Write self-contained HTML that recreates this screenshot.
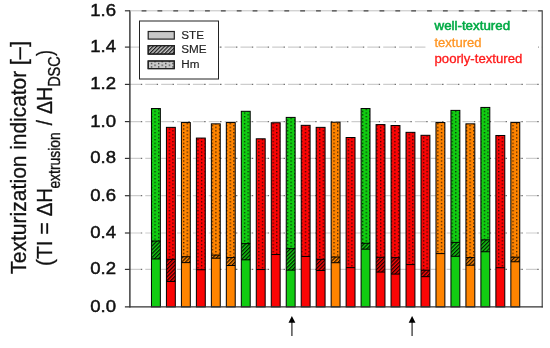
<!DOCTYPE html>
<html><head><meta charset="utf-8"><title>Texturization indicator</title>
<style>
html,body{margin:0;padding:0;background:#fff}
svg text{font-family:"Liberation Sans",sans-serif}
</style></head><body>
<svg width="550" height="348" viewBox="0 0 550 348" style="display:block">
<defs>
<pattern id="dots" width="7.16" height="3.55" patternUnits="userSpaceOnUse" x="154.4" y="110.7">
<rect x="0" y="0" width="1.3" height="1.3" fill="#000" fill-opacity="0.75"/>
<rect x="3.58" y="1.78" width="1.3" height="1.3" fill="#000" fill-opacity="0.75"/>
</pattern>
<pattern id="hatch" width="2.7" height="2.7" patternUnits="userSpaceOnUse" patternTransform="rotate(-45)">
<rect x="0" y="0" width="2.7" height="1.25" fill="#000" fill-opacity="0.85"/>
</pattern>
</defs>
<rect width="550" height="348" fill="#fff"/>
<line x1="129.9" x2="542.2" y1="269.40" y2="269.40" stroke="#cdcdcd" stroke-width="1.2" stroke-dasharray="11 4.86" stroke-dashoffset="-15.40"/>
<line x1="129.9" x2="542.2" y1="269.40" y2="269.40" stroke="#707070" stroke-width="1.2" stroke-dasharray="1.5 14.36" stroke-dashoffset="-10.80"/>
<line x1="129.9" x2="542.2" y1="233.00" y2="233.00" stroke="#cdcdcd" stroke-width="1.2" stroke-dasharray="11 4.86" stroke-dashoffset="-15.40"/>
<line x1="129.9" x2="542.2" y1="233.00" y2="233.00" stroke="#707070" stroke-width="1.2" stroke-dasharray="1.5 14.36" stroke-dashoffset="-10.80"/>
<line x1="129.9" x2="542.2" y1="195.70" y2="195.70" stroke="#cdcdcd" stroke-width="1.2" stroke-dasharray="11 4.86" stroke-dashoffset="-15.40"/>
<line x1="129.9" x2="542.2" y1="195.70" y2="195.70" stroke="#707070" stroke-width="1.2" stroke-dasharray="1.5 14.36" stroke-dashoffset="-10.80"/>
<line x1="129.9" x2="542.2" y1="158.40" y2="158.40" stroke="#cdcdcd" stroke-width="1.2" stroke-dasharray="11 4.86" stroke-dashoffset="-15.40"/>
<line x1="129.9" x2="542.2" y1="158.40" y2="158.40" stroke="#707070" stroke-width="1.2" stroke-dasharray="1.5 14.36" stroke-dashoffset="-10.80"/>
<line x1="129.9" x2="542.2" y1="121.60" y2="121.60" stroke="#cdcdcd" stroke-width="1.2" stroke-dasharray="11 4.86" stroke-dashoffset="-15.40"/>
<line x1="129.9" x2="542.2" y1="121.60" y2="121.60" stroke="#707070" stroke-width="1.2" stroke-dasharray="1.5 14.36" stroke-dashoffset="-10.80"/>
<line x1="129.9" x2="542.2" y1="84.40" y2="84.40" stroke="#cdcdcd" stroke-width="1.2" stroke-dasharray="11 4.86" stroke-dashoffset="-15.40"/>
<line x1="129.9" x2="542.2" y1="84.40" y2="84.40" stroke="#707070" stroke-width="1.2" stroke-dasharray="1.5 14.36" stroke-dashoffset="-10.80"/>
<line x1="129.9" x2="542.2" y1="47.10" y2="47.10" stroke="#cdcdcd" stroke-width="1.2" stroke-dasharray="11 4.86" stroke-dashoffset="-15.40"/>
<line x1="129.9" x2="542.2" y1="47.10" y2="47.10" stroke="#707070" stroke-width="1.2" stroke-dasharray="1.5 14.36" stroke-dashoffset="-10.80"/>
<rect x="425.5" y="14" width="112.5" height="62" fill="#fff"/>
<rect x="151.45" y="108.54" width="8.9" height="198.36" fill="#12cc12"/>
<rect x="151.45" y="108.54" width="8.9" height="132.51" fill="url(#dots)"/>
<rect x="151.45" y="241.05" width="8.9" height="17.90" fill="url(#hatch)"/>
<rect x="151.45" y="108.54" width="8.9" height="198.36" fill="none" stroke="#000" stroke-width="1"/>
<line x1="151.45" x2="160.35" y1="241.05" y2="241.05" stroke="#000" stroke-width="1"/>
<line x1="151.45" x2="160.35" y1="258.95" y2="258.95" stroke="#000" stroke-width="1"/>
<rect x="166.42" y="127.36" width="8.9" height="179.54" fill="#fa0505"/>
<rect x="166.42" y="127.36" width="8.9" height="131.96" fill="url(#dots)"/>
<rect x="166.42" y="259.32" width="8.9" height="22.15" fill="url(#hatch)"/>
<rect x="166.42" y="127.36" width="8.9" height="179.54" fill="none" stroke="#000" stroke-width="1"/>
<line x1="166.42" x2="175.32" y1="259.32" y2="259.32" stroke="#000" stroke-width="1"/>
<line x1="166.42" x2="175.32" y1="281.47" y2="281.47" stroke="#000" stroke-width="1"/>
<rect x="181.40" y="122.56" width="8.9" height="184.34" fill="#ff8400"/>
<rect x="181.40" y="122.56" width="8.9" height="134.18" fill="url(#dots)"/>
<rect x="181.40" y="256.74" width="8.9" height="5.91" fill="url(#hatch)"/>
<rect x="181.40" y="122.56" width="8.9" height="184.34" fill="none" stroke="#000" stroke-width="1"/>
<line x1="181.40" x2="190.30" y1="256.74" y2="256.74" stroke="#000" stroke-width="1"/>
<line x1="181.40" x2="190.30" y1="262.64" y2="262.64" stroke="#000" stroke-width="1"/>
<rect x="196.38" y="138.07" width="8.9" height="168.83" fill="#fa0505"/>
<rect x="196.38" y="138.07" width="8.9" height="131.68" fill="url(#dots)"/>
<rect x="196.38" y="138.07" width="8.9" height="168.83" fill="none" stroke="#000" stroke-width="1"/>
<line x1="196.38" x2="205.28" y1="269.75" y2="269.75" stroke="#000" stroke-width="1"/>
<rect x="211.35" y="123.85" width="8.9" height="183.05" fill="#ff8400"/>
<rect x="211.35" y="123.85" width="8.9" height="131.22" fill="url(#dots)"/>
<rect x="211.35" y="255.08" width="8.9" height="3.14" fill="url(#hatch)"/>
<rect x="211.35" y="123.85" width="8.9" height="183.05" fill="none" stroke="#000" stroke-width="1"/>
<line x1="211.35" x2="220.25" y1="255.08" y2="255.08" stroke="#000" stroke-width="1"/>
<line x1="211.35" x2="220.25" y1="258.21" y2="258.21" stroke="#000" stroke-width="1"/>
<rect x="226.32" y="122.56" width="8.9" height="184.34" fill="#ff8400"/>
<rect x="226.32" y="122.56" width="8.9" height="135.02" fill="url(#dots)"/>
<rect x="226.32" y="257.59" width="8.9" height="7.92" fill="url(#hatch)"/>
<rect x="226.32" y="122.56" width="8.9" height="184.34" fill="none" stroke="#000" stroke-width="1"/>
<line x1="226.32" x2="235.22" y1="257.59" y2="257.59" stroke="#000" stroke-width="1"/>
<line x1="226.32" x2="235.22" y1="265.50" y2="265.50" stroke="#000" stroke-width="1"/>
<rect x="241.30" y="111.30" width="8.9" height="195.60" fill="#12cc12"/>
<rect x="241.30" y="111.30" width="8.9" height="132.33" fill="url(#dots)"/>
<rect x="241.30" y="243.63" width="8.9" height="16.20" fill="url(#hatch)"/>
<rect x="241.30" y="111.30" width="8.9" height="195.60" fill="none" stroke="#000" stroke-width="1"/>
<line x1="241.30" x2="250.20" y1="243.63" y2="243.63" stroke="#000" stroke-width="1"/>
<line x1="241.30" x2="250.20" y1="259.84" y2="259.84" stroke="#000" stroke-width="1"/>
<rect x="256.27" y="138.80" width="8.9" height="168.10" fill="#fa0505"/>
<rect x="256.27" y="138.80" width="8.9" height="130.76" fill="url(#dots)"/>
<rect x="256.27" y="138.80" width="8.9" height="168.10" fill="none" stroke="#000" stroke-width="1"/>
<line x1="256.27" x2="265.17" y1="269.56" y2="269.56" stroke="#000" stroke-width="1"/>
<rect x="271.25" y="122.75" width="8.9" height="184.15" fill="#fa0505"/>
<rect x="271.25" y="122.75" width="8.9" height="131.78" fill="url(#dots)"/>
<rect x="271.25" y="122.75" width="8.9" height="184.15" fill="none" stroke="#000" stroke-width="1"/>
<line x1="271.25" x2="280.15" y1="254.52" y2="254.52" stroke="#000" stroke-width="1"/>
<rect x="286.23" y="117.40" width="8.9" height="189.50" fill="#12cc12"/>
<rect x="286.23" y="117.40" width="8.9" height="131.28" fill="url(#dots)"/>
<rect x="286.23" y="248.67" width="8.9" height="21.45" fill="url(#hatch)"/>
<rect x="286.23" y="117.40" width="8.9" height="189.50" fill="none" stroke="#000" stroke-width="1"/>
<line x1="286.23" x2="295.12" y1="248.67" y2="248.67" stroke="#000" stroke-width="1"/>
<line x1="286.23" x2="295.12" y1="270.12" y2="270.12" stroke="#000" stroke-width="1"/>
<rect x="301.20" y="125.33" width="8.9" height="181.57" fill="#fa0505"/>
<rect x="301.20" y="125.33" width="8.9" height="131.13" fill="url(#dots)"/>
<rect x="301.20" y="125.33" width="8.9" height="181.57" fill="none" stroke="#000" stroke-width="1"/>
<line x1="301.20" x2="310.10" y1="256.46" y2="256.46" stroke="#000" stroke-width="1"/>
<rect x="316.17" y="127.36" width="8.9" height="179.54" fill="#fa0505"/>
<rect x="316.17" y="127.36" width="8.9" height="131.96" fill="url(#dots)"/>
<rect x="316.17" y="259.32" width="8.9" height="11.15" fill="url(#hatch)"/>
<rect x="316.17" y="127.36" width="8.9" height="179.54" fill="none" stroke="#000" stroke-width="1"/>
<line x1="316.17" x2="325.07" y1="259.32" y2="259.32" stroke="#000" stroke-width="1"/>
<line x1="316.17" x2="325.07" y1="270.47" y2="270.47" stroke="#000" stroke-width="1"/>
<rect x="331.15" y="122.19" width="8.9" height="184.71" fill="#ff8400"/>
<rect x="331.15" y="122.19" width="8.9" height="134.80" fill="url(#dots)"/>
<rect x="331.15" y="257.00" width="8.9" height="5.72" fill="url(#hatch)"/>
<rect x="331.15" y="122.19" width="8.9" height="184.71" fill="none" stroke="#000" stroke-width="1"/>
<line x1="331.15" x2="340.05" y1="257.00" y2="257.00" stroke="#000" stroke-width="1"/>
<line x1="331.15" x2="340.05" y1="262.72" y2="262.72" stroke="#000" stroke-width="1"/>
<rect x="346.12" y="137.51" width="8.9" height="169.39" fill="#fa0505"/>
<rect x="346.12" y="137.51" width="8.9" height="130.11" fill="url(#dots)"/>
<rect x="346.12" y="137.51" width="8.9" height="169.39" fill="none" stroke="#000" stroke-width="1"/>
<line x1="346.12" x2="355.02" y1="267.63" y2="267.63" stroke="#000" stroke-width="1"/>
<rect x="361.10" y="108.54" width="8.9" height="198.36" fill="#12cc12"/>
<rect x="361.10" y="108.54" width="8.9" height="134.73" fill="url(#dots)"/>
<rect x="361.10" y="243.27" width="8.9" height="5.91" fill="url(#hatch)"/>
<rect x="361.10" y="108.54" width="8.9" height="198.36" fill="none" stroke="#000" stroke-width="1"/>
<line x1="361.10" x2="370.00" y1="243.27" y2="243.27" stroke="#000" stroke-width="1"/>
<line x1="361.10" x2="370.00" y1="249.17" y2="249.17" stroke="#000" stroke-width="1"/>
<rect x="376.07" y="124.59" width="8.9" height="182.31" fill="#fa0505"/>
<rect x="376.07" y="124.59" width="8.9" height="132.70" fill="url(#dots)"/>
<rect x="376.07" y="257.29" width="8.9" height="14.76" fill="url(#hatch)"/>
<rect x="376.07" y="124.59" width="8.9" height="182.31" fill="none" stroke="#000" stroke-width="1"/>
<line x1="376.07" x2="384.97" y1="257.29" y2="257.29" stroke="#000" stroke-width="1"/>
<line x1="376.07" x2="384.97" y1="272.06" y2="272.06" stroke="#000" stroke-width="1"/>
<rect x="391.05" y="125.52" width="8.9" height="181.38" fill="#fa0505"/>
<rect x="391.05" y="125.52" width="8.9" height="132.14" fill="url(#dots)"/>
<rect x="391.05" y="257.66" width="8.9" height="16.43" fill="url(#hatch)"/>
<rect x="391.05" y="125.52" width="8.9" height="181.38" fill="none" stroke="#000" stroke-width="1"/>
<line x1="391.05" x2="399.95" y1="257.66" y2="257.66" stroke="#000" stroke-width="1"/>
<line x1="391.05" x2="399.95" y1="274.09" y2="274.09" stroke="#000" stroke-width="1"/>
<rect x="406.02" y="132.34" width="8.9" height="174.56" fill="#fa0505"/>
<rect x="406.02" y="132.34" width="8.9" height="132.24" fill="url(#dots)"/>
<rect x="406.02" y="132.34" width="8.9" height="174.56" fill="none" stroke="#000" stroke-width="1"/>
<line x1="406.02" x2="414.92" y1="264.58" y2="264.58" stroke="#000" stroke-width="1"/>
<rect x="421.00" y="135.30" width="8.9" height="171.60" fill="#fa0505"/>
<rect x="421.00" y="135.30" width="8.9" height="134.91" fill="url(#dots)"/>
<rect x="421.00" y="270.21" width="8.9" height="6.46" fill="url(#hatch)"/>
<rect x="421.00" y="135.30" width="8.9" height="171.60" fill="none" stroke="#000" stroke-width="1"/>
<line x1="421.00" x2="429.90" y1="270.21" y2="270.21" stroke="#000" stroke-width="1"/>
<line x1="421.00" x2="429.90" y1="276.67" y2="276.67" stroke="#000" stroke-width="1"/>
<rect x="435.97" y="122.56" width="8.9" height="184.34" fill="#ff8400"/>
<rect x="435.97" y="122.56" width="8.9" height="131.04" fill="url(#dots)"/>
<rect x="435.97" y="122.56" width="8.9" height="184.34" fill="none" stroke="#000" stroke-width="1"/>
<line x1="435.97" x2="444.87" y1="253.60" y2="253.60" stroke="#000" stroke-width="1"/>
<rect x="450.95" y="110.38" width="8.9" height="196.52" fill="#12cc12"/>
<rect x="450.95" y="110.38" width="8.9" height="132.00" fill="url(#dots)"/>
<rect x="450.95" y="242.38" width="8.9" height="13.92" fill="url(#hatch)"/>
<rect x="450.95" y="110.38" width="8.9" height="196.52" fill="none" stroke="#000" stroke-width="1"/>
<line x1="450.95" x2="459.85" y1="242.38" y2="242.38" stroke="#000" stroke-width="1"/>
<line x1="450.95" x2="459.85" y1="256.29" y2="256.29" stroke="#000" stroke-width="1"/>
<rect x="465.92" y="123.85" width="8.9" height="183.05" fill="#ff8400"/>
<rect x="465.92" y="123.85" width="8.9" height="133.73" fill="url(#dots)"/>
<rect x="465.92" y="257.59" width="8.9" height="7.64" fill="url(#hatch)"/>
<rect x="465.92" y="123.85" width="8.9" height="183.05" fill="none" stroke="#000" stroke-width="1"/>
<line x1="465.92" x2="474.82" y1="257.59" y2="257.59" stroke="#000" stroke-width="1"/>
<line x1="465.92" x2="474.82" y1="265.23" y2="265.23" stroke="#000" stroke-width="1"/>
<rect x="480.90" y="107.43" width="8.9" height="199.47" fill="#12cc12"/>
<rect x="480.90" y="107.43" width="8.9" height="132.44" fill="url(#dots)"/>
<rect x="480.90" y="239.87" width="8.9" height="11.89" fill="url(#hatch)"/>
<rect x="480.90" y="107.43" width="8.9" height="199.47" fill="none" stroke="#000" stroke-width="1"/>
<line x1="480.90" x2="489.80" y1="239.87" y2="239.87" stroke="#000" stroke-width="1"/>
<line x1="480.90" x2="489.80" y1="251.75" y2="251.75" stroke="#000" stroke-width="1"/>
<rect x="495.88" y="135.48" width="8.9" height="171.42" fill="#fa0505"/>
<rect x="495.88" y="135.48" width="8.9" height="132.24" fill="url(#dots)"/>
<rect x="495.88" y="135.48" width="8.9" height="171.42" fill="none" stroke="#000" stroke-width="1"/>
<line x1="495.88" x2="504.77" y1="267.72" y2="267.72" stroke="#000" stroke-width="1"/>
<rect x="510.85" y="122.56" width="8.9" height="184.34" fill="#ff8400"/>
<rect x="510.85" y="122.56" width="8.9" height="134.62" fill="url(#dots)"/>
<rect x="510.85" y="257.18" width="8.9" height="4.61" fill="url(#hatch)"/>
<rect x="510.85" y="122.56" width="8.9" height="184.34" fill="none" stroke="#000" stroke-width="1"/>
<line x1="510.85" x2="519.75" y1="257.18" y2="257.18" stroke="#000" stroke-width="1"/>
<line x1="510.85" x2="519.75" y1="261.79" y2="261.79" stroke="#000" stroke-width="1"/>
<line x1="129.9" x2="129.9" y1="10.30" y2="307.50" stroke="#222" stroke-width="1.3"/>
<line x1="542.2" x2="542.2" y1="10.30" y2="307.50" stroke="#333" stroke-width="1.1"/>
<line x1="124.9" x2="542.8000000000001" y1="306.9" y2="306.9" stroke="#333" stroke-width="1.4"/>
<line x1="129.9" x2="542.2" y1="10.80" y2="10.80" stroke="#c0c0c0" stroke-width="1"/>
<line x1="141.6" x2="542.2" y1="10.80" y2="10.80" stroke="#444" stroke-width="1.3" stroke-dasharray="4.8 11.06"/>
<text x="116.1" y="311.80" text-anchor="end" font-size="16.3" textLength="25.8" lengthAdjust="spacingAndGlyphs" fill="#111" stroke="#111" stroke-width="0.45">0.0</text>
<line x1="124.9" x2="129.9" y1="269.40" y2="269.40" stroke="#333" stroke-width="1.2"/>
<text x="116.1" y="274.30" text-anchor="end" font-size="16.3" textLength="25.8" lengthAdjust="spacingAndGlyphs" fill="#111" stroke="#111" stroke-width="0.45">0.2</text>
<line x1="124.9" x2="129.9" y1="233.00" y2="233.00" stroke="#333" stroke-width="1.2"/>
<text x="116.1" y="237.90" text-anchor="end" font-size="16.3" textLength="25.8" lengthAdjust="spacingAndGlyphs" fill="#111" stroke="#111" stroke-width="0.45">0.4</text>
<line x1="124.9" x2="129.9" y1="195.70" y2="195.70" stroke="#333" stroke-width="1.2"/>
<text x="116.1" y="200.60" text-anchor="end" font-size="16.3" textLength="25.8" lengthAdjust="spacingAndGlyphs" fill="#111" stroke="#111" stroke-width="0.45">0.6</text>
<line x1="124.9" x2="129.9" y1="158.40" y2="158.40" stroke="#333" stroke-width="1.2"/>
<text x="116.1" y="163.30" text-anchor="end" font-size="16.3" textLength="25.8" lengthAdjust="spacingAndGlyphs" fill="#111" stroke="#111" stroke-width="0.45">0.8</text>
<line x1="124.9" x2="129.9" y1="121.60" y2="121.60" stroke="#333" stroke-width="1.2"/>
<text x="116.1" y="126.50" text-anchor="end" font-size="16.3" textLength="25.8" lengthAdjust="spacingAndGlyphs" fill="#111" stroke="#111" stroke-width="0.45">1.0</text>
<line x1="124.9" x2="129.9" y1="84.40" y2="84.40" stroke="#333" stroke-width="1.2"/>
<text x="116.1" y="89.30" text-anchor="end" font-size="16.3" textLength="25.8" lengthAdjust="spacingAndGlyphs" fill="#111" stroke="#111" stroke-width="0.45">1.2</text>
<line x1="124.9" x2="129.9" y1="47.10" y2="47.10" stroke="#333" stroke-width="1.2"/>
<text x="116.1" y="52.00" text-anchor="end" font-size="16.3" textLength="25.8" lengthAdjust="spacingAndGlyphs" fill="#111" stroke="#111" stroke-width="0.45">1.4</text>
<line x1="124.9" x2="129.9" y1="10.80" y2="10.80" stroke="#333" stroke-width="1.2"/>
<text x="116.1" y="15.70" text-anchor="end" font-size="16.3" textLength="25.8" lengthAdjust="spacingAndGlyphs" fill="#111" stroke="#111" stroke-width="0.45">1.6</text>
<rect x="139.5" y="21" width="79" height="58" fill="#fff" stroke="#222" stroke-width="1"/>
<rect x="148.2" y="31.50" width="26.1" height="7.6" fill="#c8c8c8" stroke="#222" stroke-width="1.2"/>
<text x="181.3" y="38.80" font-size="11.7" fill="#222" stroke="#222" stroke-width="0.15">STE</text>
<rect x="148.2" y="45.60" width="26.1" height="8.5" fill="#c8c8c8" stroke="#222" stroke-width="1.2"/>
<rect x="148.2" y="45.60" width="26.1" height="8.5" fill="url(#hatch)" stroke="#222" stroke-width="1.2"/>
<text x="181.3" y="53.00" font-size="11.7" fill="#222" stroke="#222" stroke-width="0.15">SME</text>
<rect x="148.2" y="61.00" width="26.1" height="7.6" fill="#c8c8c8" stroke="#222" stroke-width="1.2"/>
<rect x="148.2" y="61.00" width="26.1" height="7.6" fill="url(#dots)" stroke="#222" stroke-width="1.2"/>
<text x="181.3" y="67.70" font-size="11.7" fill="#222" stroke="#222" stroke-width="0.15">Hm</text>
<text x="434.5" y="29.8" font-size="12.2" textLength="75.6" lengthAdjust="spacingAndGlyphs" fill="#00aa44" stroke="#00aa44" stroke-width="0.5">well-textured</text>
<text x="434.5" y="46.6" font-size="12.2" textLength="47" lengthAdjust="spacingAndGlyphs" fill="#ff9522" stroke="#ff9522" stroke-width="0.3">textured</text>
<text x="434.5" y="63.4" font-size="12.2" textLength="87.8" lengthAdjust="spacingAndGlyphs" fill="#ff1a1a" stroke="#ff1a1a" stroke-width="0.3">poorly-textured</text>
<line x1="291.9" x2="291.9" y1="322" y2="336.1" stroke="#444" stroke-width="1.4"/>
<path d="M288.5 322.8 L291.9 316 L295.3 322.8 Z" fill="#000"/>
<line x1="412.1" x2="412.1" y1="322" y2="336.1" stroke="#444" stroke-width="1.4"/>
<path d="M408.7 322.8 L412.1 316 L415.5 322.8 Z" fill="#000"/>
<text transform="translate(26.3,273.88) rotate(-90) scale(1,1.06)" font-size="21" textLength="118.5" lengthAdjust="spacingAndGlyphs" fill="#111" stroke="#111" stroke-width="0.3">Texturization</text>
<text transform="translate(26.3,149.79) rotate(-90) scale(1,1.06)" font-size="21" textLength="78.89" lengthAdjust="spacingAndGlyphs" fill="#111" stroke="#111" stroke-width="0.3">indicator</text>
<text transform="translate(26.3,65.21) rotate(-90) scale(1,1.06)" font-size="21" textLength="24.26" lengthAdjust="spacingAndGlyphs" fill="#111" stroke="#111" stroke-width="0.3">[–]</text>
<text transform="translate(52.2,265.88) rotate(-90) scale(1,1.04)" font-size="21" textLength="43.47" lengthAdjust="spacingAndGlyphs" fill="#111" stroke="#111" stroke-width="0.3">(TI =</text>
<text transform="translate(52.2,216.3) rotate(-90) scale(1,1.04)" font-size="21" textLength="28.31" lengthAdjust="spacingAndGlyphs" fill="#111" stroke="#111" stroke-width="0.3">ΔH</text>
<text transform="translate(60.0,188.62) rotate(-90) scale(1,1.18)" font-size="13.5" textLength="56.27" lengthAdjust="spacingAndGlyphs" fill="#111" stroke="#111" stroke-width="0.3">extrusion</text>
<text transform="translate(52.2,125.19) rotate(-90) scale(1,1.04)" font-size="21" textLength="5.16" lengthAdjust="spacingAndGlyphs" fill="#111" stroke="#111" stroke-width="0.3">/</text>
<text transform="translate(52.2,113.96) rotate(-90) scale(1,1.04)" font-size="21" textLength="27.12" lengthAdjust="spacingAndGlyphs" fill="#111" stroke="#111" stroke-width="0.3">ΔH</text>
<text transform="translate(60.0,86.82) rotate(-90) scale(1,1.18)" font-size="13.5" textLength="30.49" lengthAdjust="spacingAndGlyphs" fill="#111" stroke="#111" stroke-width="0.3">DSC</text>
<text transform="translate(52.2,55.89) rotate(-90) scale(1,1.04)" font-size="21" textLength="5.97" lengthAdjust="spacingAndGlyphs" fill="#111" stroke="#111" stroke-width="0.3">)</text>
</svg>
</body></html>
